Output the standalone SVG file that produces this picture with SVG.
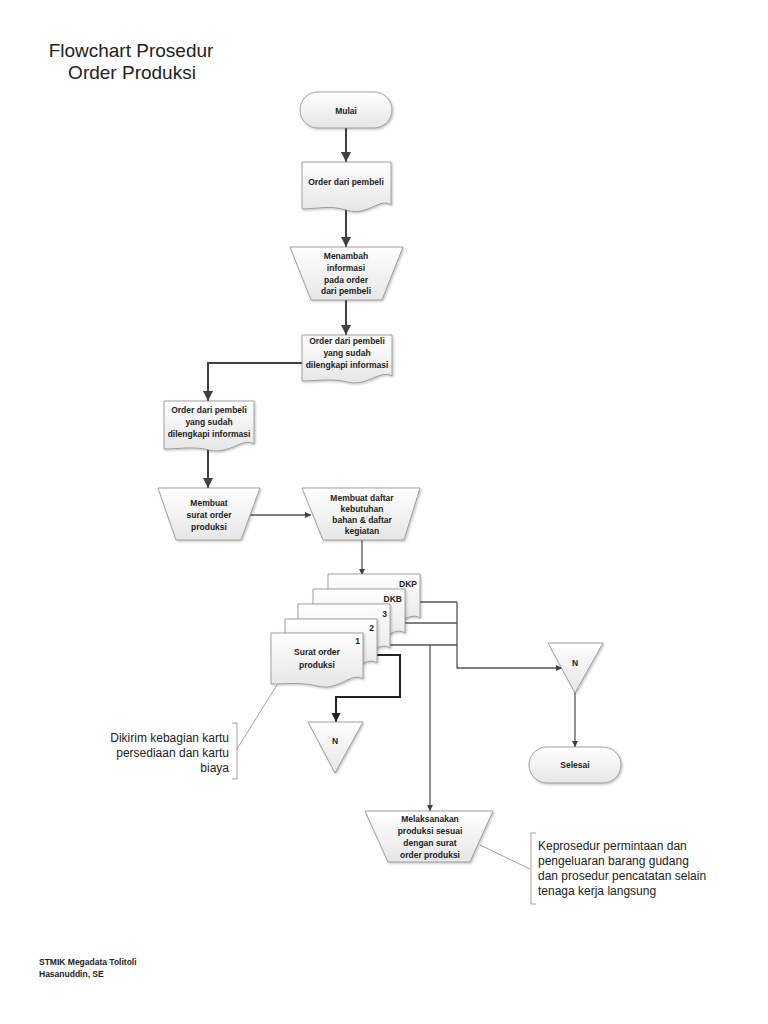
<svg xmlns="http://www.w3.org/2000/svg" width="768" height="1024" viewBox="0 0 768 1024">
<defs>
<linearGradient id="g" x1="0" y1="0" x2="0" y2="1"><stop offset="0" stop-color="#ffffff"/><stop offset="1" stop-color="#e6e6e6"/></linearGradient>
<filter id="sh" x="-10%" y="-10%" width="130%" height="130%"><feDropShadow dx="1.2" dy="1.2" stdDeviation="1.2" flood-color="#000" flood-opacity="0.25"/></filter>
<marker id="ar" viewBox="0 0 10 10" refX="10" refY="5" markerWidth="5" markerHeight="5" orient="auto" markerUnits="strokeWidth"><path d="M0,0 L10,5 L0,10 Z" fill="#404040"/></marker>
<marker id="arb" viewBox="0 0 10 10" refX="10" refY="5" markerWidth="4.5" markerHeight="4.5" orient="auto" markerUnits="strokeWidth"><path d="M0,0 L10,5 L0,10 Z" fill="#222"/></marker>
</defs>
<style>
.s{fill:url(#g);stroke:#8a8a8a;stroke-width:0.8;filter:url(#sh)}
.t{font-family:"Liberation Sans",Arial,sans-serif;font-weight:bold;font-size:8.5px;fill:#222;text-anchor:middle}
.tr{text-anchor:end}
.c{fill:none;stroke:#404040;stroke-width:2}
.c1{fill:none;stroke:#555;stroke-width:1.3}
.cb{fill:none;stroke:#222;stroke-width:2}
.a{fill:none;stroke:#8a8a8a;stroke-width:0.8}
.n{font-family:"Liberation Sans",Arial,sans-serif;font-size:12px;fill:#222}
.h{font-family:"Liberation Sans",Arial,sans-serif;font-size:19px;fill:#222;text-anchor:middle}
.f{font-family:"Liberation Sans",Arial,sans-serif;font-size:8.5px;font-weight:bold;fill:#222}
</style>

<text class="h" x="131" y="57">Flowchart Prosedur</text>
<text class="h" x="132" y="79">Order Produksi</text>

<g id="connectors">
<path class="c" d="M346,128 V162" marker-end="url(#ar)"/>
<path class="c" d="M346,207 V247" marker-end="url(#ar)"/>
<path class="c" d="M346,300 V335" marker-end="url(#ar)"/>
<path class="c" d="M302,363 H208 V401" marker-end="url(#ar)"/>
<path class="c" d="M208,446 V488" marker-end="url(#ar)"/>
<path class="c1" d="M250,515 H311" marker-end="url(#ar)"/>
<path class="c1" d="M362,540 V575" marker-end="url(#ar)"/>
<path class="c1" d="M420,602 H457 M405,623 H457 M390,645 H457"/>
<path class="c1" d="M457,602 V668 H562" marker-end="url(#ar)"/>
<path class="c1" d="M430,645 V811" marker-end="url(#ar)"/>
<path class="cb" d="M377,655 H400 V697 H336 V722" marker-end="url(#arb)"/>
<path class="c1" d="M575,693 V747" marker-end="url(#ar)"/>
<path class="a" d="M237,749 L277,685"/>
<path class="a" d="M480,845 L530,869"/>
</g>

<g id="mulai"><rect class="s" x="300" y="92" width="92" height="36" rx="18"/><text class="t" x="346" y="114">Mulai</text></g>

<g id="order1"><path class="s" d="M302,162 H391 V205 C379,197 368,217 346,210 C330,205 316,209 302,209 Z"/><text class="t" x="346" y="185">Order dari pembeli</text></g>

<g id="menambah"><path class="s" d="M290,247 H403 L382,300 H311 Z"/>
<text class="t" x="346" y="259">Menambah</text><text class="t" x="346" y="271">informasi</text><text class="t" x="346" y="283">pada order</text><text class="t" x="346" y="294">dari pembeli</text></g>

<g id="order2"><path class="s" d="M302,335 H392 V376 C380,369 368,387 347,382 C331,378 317,381 302,381 Z"/>
<text class="t" x="347" y="344">Order dari pembeli</text><text class="t" x="347" y="356">yang sudah</text><text class="t" x="347" y="368">dilengkapi informasi</text></g>

<g id="order3"><path class="s" d="M164,401 H254 V444 C242,437 230,455 209,450 C193,446 179,449 164,449 Z"/>
<text class="t" x="209" y="413">Order dari pembeli</text><text class="t" x="209" y="425">yang sudah</text><text class="t" x="209" y="437">dilengkapi informasi</text></g>

<g id="membuat-surat"><path class="s" d="M158,488 H260 L241,540 H176 Z"/>
<text class="t" x="209" y="506">Membuat</text><text class="t" x="209" y="518">surat order</text><text class="t" x="209" y="530">produksi</text></g>

<g id="membuat-daftar"><path class="s" d="M302,488 H420 L404,540 H323 Z"/>
<text class="t" x="362" y="501">Membuat daftar</text><text class="t" x="362" y="512">kebutuhan</text><text class="t" x="362" y="523">bahan &amp; daftar</text><text class="t" x="362" y="534">kegiatan</text></g>

<g id="dkp"><path class="s" d="M328,574 H420 V618 C408,610 396,631 374,625 C358,621 343,623 328,623 Z"/><text class="t tr" x="417" y="587">DKP</text></g>
<g id="dkb"><path class="s" d="M313,589 H405 V633 C393,625 381,646 359,640 C343,636 328,638 313,638 Z"/><text class="t tr" x="402" y="602">DKB</text></g>
<g id="doc3"><path class="s" d="M298,604 H390 V648 C378,640 366,661 344,655 C328,651 313,653 298,653 Z"/><text class="t tr" x="387" y="617">3</text></g>
<g id="doc2"><path class="s" d="M285,619 H377 V663 C365,655 353,676 331,670 C315,666 300,668 285,668 Z"/><text class="t tr" x="374" y="631">2</text></g>
<g id="doc1"><path class="s" d="M271,633 H363 V679 C351,671 339,692 317,686 C301,682 286,684 271,684 Z"/><text class="t tr" x="360" y="644">1</text>
<text class="t" x="317" y="655">Surat order</text><text class="t" x="317" y="668">produksi</text></g>

<g id="n-right"><path class="s" d="M548,643 H603 L575,693 Z"/><text class="t" x="575" y="666">N</text></g>
<g id="selesai"><rect class="s" x="529" y="747" width="92" height="36" rx="18"/><text class="t" x="575" y="768">Selesai</text></g>
<g id="n-left"><path class="s" d="M308,722 H363 L335,773 Z"/><text class="t" x="335" y="744">N</text></g>

<g id="melaksanakan"><path class="s" d="M365,811 H493 L470,862 H388 Z"/>
<text class="t" x="430" y="822">Melaksanakan</text><text class="t" x="430" y="834">produksi sesuai</text><text class="t" x="430" y="846">dengan surat</text><text class="t" x="430" y="858">order produksi</text></g>

<g id="note-left"><path class="a" d="M232,723 H237 V779 H232"/>
<text class="n" x="229" y="742" text-anchor="end">Dikirim kebagian kartu</text>
<text class="n" x="229" y="757" text-anchor="end">persediaan dan kartu</text>
<text class="n" x="229" y="772" text-anchor="end">biaya</text></g>

<g id="note-right"><path class="a" d="M536,833 H531 V904 H536"/>
<text class="n" x="538" y="850">Keprosedur permintaan dan</text>
<text class="n" x="538" y="865">pengeluaran barang gudang</text>
<text class="n" x="538" y="880">dan prosedur pencatatan selain</text>
<text class="n" x="538" y="895">tenaga kerja langsung</text></g>

<text class="f" x="39" y="965">STMIK Megadata Tolitoli</text>
<text class="f" x="39" y="977">Hasanuddin, SE</text>
</svg>
